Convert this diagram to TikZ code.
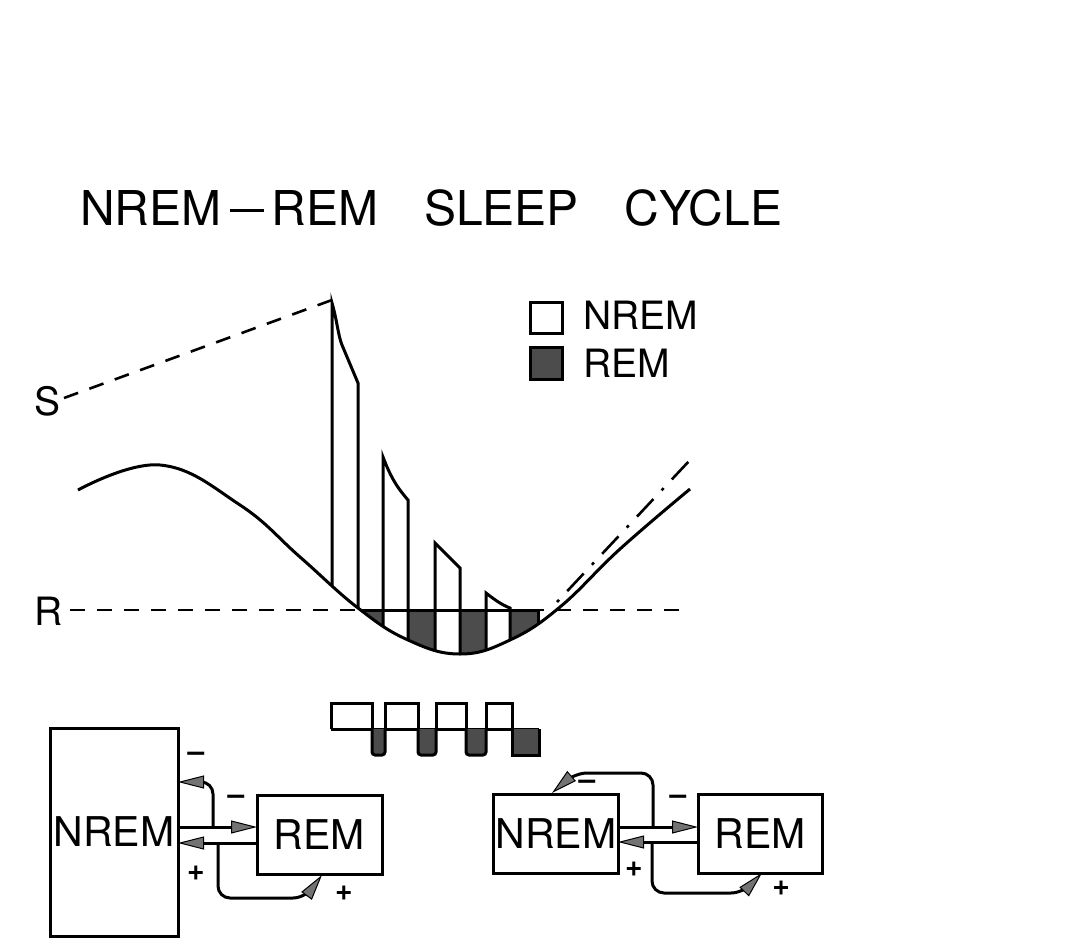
\documentclass[tikz,border=0pt]{standalone}
\usepackage{fontspec}
\setmainfont{TeX Gyre Heros}
\usetikzlibrary{arrows.meta,patterns}
\begin{document}
\begin{tikzpicture}[x=1pt,y=-1pt,
  ln/.style={line width=3pt},
  dsh/.style={line width=2.6pt,dash pattern=on 15pt off 12pt},
  remfill/.style={fill=black!70},
  box/.style={draw,line width=3pt,inner sep=0pt,font=\fontsize{41}{41}\selectfont},
  tip/.style={-{Triangle[length=26pt,width=13pt,fill=black!55,line width=1pt]}},
  fb/.style={line width=3pt,rounded corners=12pt,tip},
  ar/.style={line width=3pt,tip},
  sgn/.style={font=\fontsize{30}{30}\selectfont\bfseries},
  lab/.style={font=\fontsize{39}{39}\selectfont}]
\useasboundingbox (0,0) rectangle (1065,942);
\node[font=\fontsize{48}{48}\selectfont,anchor=base west,inner sep=0pt] (title) at (80,225) {NREM\,\rule[13pt]{34pt}{3pt}\,REM\hspace{46pt}SLEEP\hspace{46pt}CYCLE};
% legend
\node[draw,ln,minimum width=32pt,minimum height=31pt,inner sep=0pt] (lgn) at (546,318) {};
\node[draw,ln,remfill,minimum width=32pt,minimum height=32pt,inner sep=0pt] (lgr) at (546,363) {};
\node[lab,anchor=west] (tn) at (580,315) {NREM};
\node[lab,anchor=west] (tr) at (580,363) {REM};
% S and R
\node[lab,anchor=east] (S) at (64,401) {S};
\node[lab,anchor=east] (R) at (66,611) {R};
\coordinate (sa) at (64,398); \coordinate (sb) at (332,300);
\draw[dsh] (sa) -- (sb);
\coordinate (ra) at (70,610); \coordinate (rb) at (690,610);
\draw[dsh] (ra) -- (rb);
\draw[line width=2.6pt,dash pattern=on 3pt off 12pt on 24pt off 12pt] (557,602) -- (690,460);
\def\curve{plot[smooth,tension=0.7] coordinates {(78,490)(160,465)(240,505)(300,557)(358,608)(408,640)(460,654)(510,640)(560,607)(620,549)(690,489)}}
\begin{scope}
\clip \curve -- (700,0) -- (70,0) -- cycle;
\fill[remfill] (358,610) rectangle (383,700);
\fill[remfill] (408,610) rectangle (435,700);
\fill[remfill] (460,610) rectangle (486,700);
\fill[remfill] (510,610) rectangle (538,700);
\draw[ln] (538,610) -- (538,700);
\draw[ln,fill=white] (332,700) -- (332,303) .. controls (337,320) and (338,335) .. (342,345) -- (358,383) -- (358,700);
\draw[ln,fill=white] (383,700) -- (383,457) .. controls (390,475) and (395,485) .. (408,500) -- (408,700);
\draw[ln,fill=white] (435,700) -- (435,543) -- (460,568) -- (460,700);
\draw[ln,fill=white] (486,700) -- (486,593) .. controls (495,600) and (502,605) .. (510,608) -- (510,700);
\draw[ln] (358,610) -- (538,610);
\end{scope}
\draw[ln] \curve;
% square wave
\draw[ln] (331,729) -- (331,703) -- (372,703) -- (372,729);
\draw[ln] (385,729) -- (385,703) -- (418,703) -- (418,729);
\draw[ln] (436,729) -- (436,703) -- (466,703) -- (466,729);
\draw[ln] (486,729) -- (486,703) -- (512,703) -- (512,729);
\draw[ln] (331,729) -- (539,729);
\draw[ln,remfill,rounded corners=3pt] (372,729) -- (372,755) -- (385,755) -- (385,729);
\draw[ln,remfill,rounded corners=3pt] (418,729) -- (418,755) -- (436,755) -- (436,729);
\draw[ln,remfill,rounded corners=3pt] (466,729) -- (466,755) -- (486,755) -- (486,729);
\draw[ln,remfill] (512,729) -- (512,755) -- (539,755) -- (539,729);
% bottom left
\node[box,minimum width=128pt,minimum height=208pt] (N1) at (114,832) {NREM};
\node[box,minimum width=125pt,minimum height=79pt] (R1) at (319.5,834.5) {REM};
\draw[ar] (178,827) -- (257,827);
\draw[ar] (257,843) -- (178,843);
\draw[fb] (213,827) -- (213,782) -- (178,782);
\draw[fb] (218,843) -- (218,898) -- (305,898) -- (322,875);
\node[sgn] (m1) at (196,757) {--};
\node[sgn] (m2) at (236,800) {--};
\node[sgn] (p1) at (196,873) {+};
\node[sgn] (p2) at (344,893) {+};
% bottom right
\node[box,minimum width=125pt,minimum height=79pt] (N2) at (556,833.5) {NREM};
\node[box,minimum width=124pt,minimum height=79pt] (R2) at (760,833.5) {REM};
\draw[ar] (618,827) -- (698,827);
\draw[ar] (698,842) -- (618,842);
\draw[fb] (653,827) -- (653,773) -- (575,773) -- (552,793);
\draw[fb] (652,842) -- (652,893) -- (743,893) -- (762,873);
\node[sgn] (m3) at (587,785) {--};
\node[sgn] (m4) at (678,800) {--};
\node[sgn] (p3) at (634,869) {+};
\node[sgn] (p4) at (781,888) {+};
\end{tikzpicture}
\end{document}
